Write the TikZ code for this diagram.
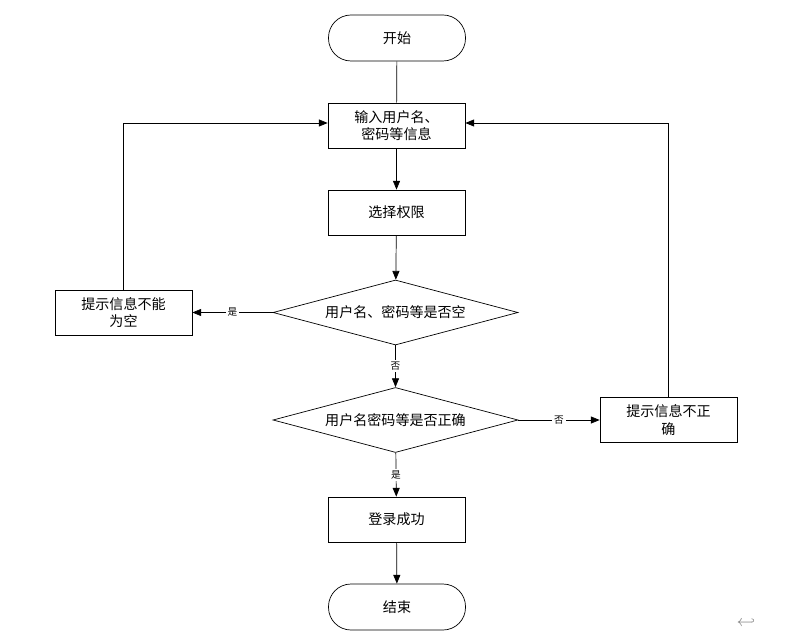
\documentclass[tikz,border=0pt]{standalone}
\usepackage{fontspec}
\newfontfamily\cjk{Noto Sans CJK SC}
\usetikzlibrary{shapes.geometric,positioning,arrows.meta}
\tikzset{
    box/.style={draw,minimum width=2.74cm,minimum height=0.9cm,align=center,font=\cjk\fontsize{8}{10}\selectfont},
    term/.style={box,rounded corners=0.45cm,minimum height=0.92cm},
    choice/.style={draw,diamond,aspect=3.75,minimum width=4.9cm,minimum height=1.3cm,inner sep=0pt,font=\cjk\fontsize{8}{10}\selectfont},
    flow/.style={-{Triangle[length=5pt,width=4pt]}},
    tag/.style={fill=white,inner sep=1pt,font=\cjk\fontsize{5.5}{6}\selectfont}
}
\begin{document}
\begin{tikzpicture}
    \useasboundingbox (0,0) rectangle (16.12,-12.74);
    \node[term] (start) at (7.94,-0.76) {开始};
    \node[box] (input) at (7.93,-2.51) {输入用户名、\\密码等信息};
    \node[box] (role) at (7.93,-4.25) {选择权限};
    \node[choice] (empty) at (7.91,-6.25) {用户名、密码等是否空};
    \node[box] (warn1) at (2.47,-6.25) {提示信息不能\\为空};
    \node[choice] (check) at (7.91,-8.4) {用户名密码等是否正确};
    \node[box] (warn2) at (13.37,-8.4) {提示信息不正\\确};
    \node[box] (ok) at (7.93,-10.39) {登录成功};
    \node[term] (stop) at (7.94,-12.14) {结束};
    \node[text=gray,font=\fontsize{9}{10}\selectfont] (mark) at (14.92,-12.45) {$\hookleftarrow$};
    % main line
    \draw (start) -- (input);
    \draw[flow] (input) -- (role);
    \draw[flow] (role) -- (empty);
    \draw[flow] (empty) -- node[tag]{否} (check);
    \draw[flow] (check) -- node[tag]{是} (ok);
    \draw[flow] (ok) -- (stop);
    % side branches
    \draw[flow] (empty.west) -- node[tag]{是} (warn1);
    \draw[flow] (check.east) -- node[tag]{否} (warn2);
    \draw[flow] (warn1.north) |- ([yshift=0.05cm]input.west);
    \draw[flow] (warn2.north) |- ([yshift=0.05cm]input.east);
\end{tikzpicture}
\end{document}
